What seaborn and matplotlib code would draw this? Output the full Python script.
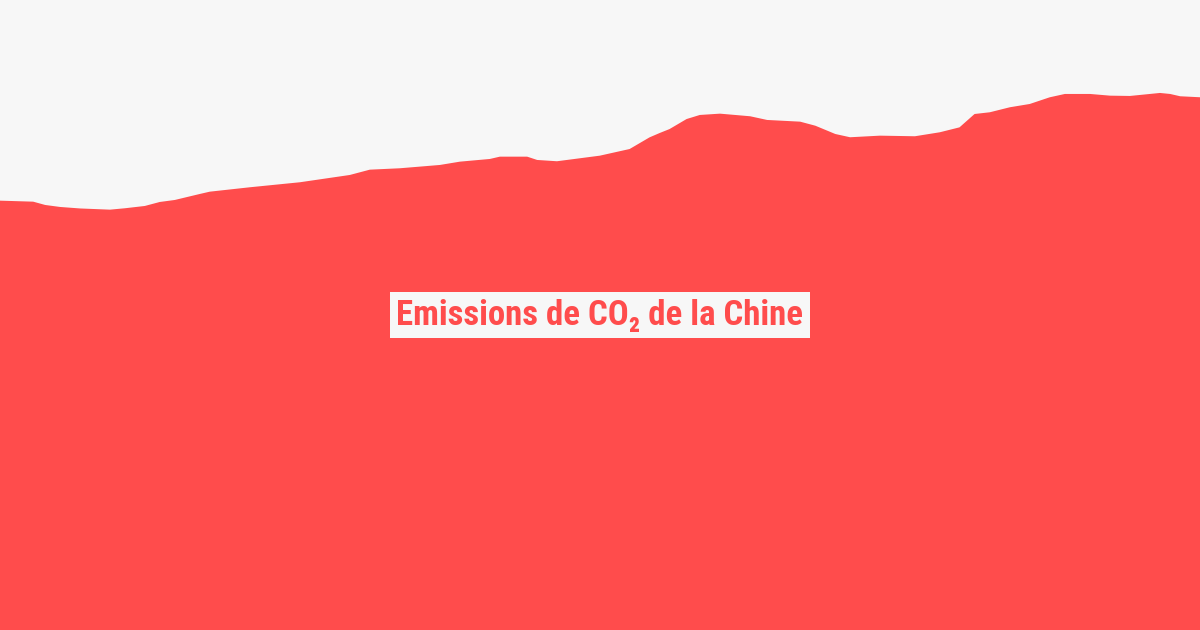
import numpy as np
import pandas as pd
import matplotlib
matplotlib.use("Agg")
import matplotlib.pyplot as plt
from matplotlib import font_manager
import seaborn as sns

# position along the series (0-1200) and level of the curve (0-630)
pos = [0, 33, 45, 60, 80, 110, 125, 145, 160, 175, 200, 210, 250, 300, 350, 370,
       400, 440, 460, 490, 500, 527, 537, 557, 600, 630, 650, 660, 670, 687, 700,
       720, 750, 767, 800, 815, 835, 850, 880, 915, 940, 960, 975, 990, 1010, 1030,
       1050, 1065, 1090, 1110, 1130, 1160, 1170, 1180, 1200]
niveau = [428.3, 427.3, 424, 422, 420.5, 419.3, 420.7, 423, 427, 429, 435, 437.3,
          441.7, 446.7, 454, 459.3, 460.7, 464, 467.3, 470, 472.3, 472.3, 469, 467.7,
          473.3, 480, 491.7, 496, 500, 510, 514, 515.3, 512.7, 509, 507.3, 503.3, 495,
          491.7, 493.3, 492.7, 496.7, 501.7, 515, 516.7, 521.7, 525, 531.7, 535, 535,
          533.3, 533, 536, 535, 532.7, 531.7]

titre = "Emissions de CO₂ de la Chine"

rouge = "#ff4c4c"
fond = "#f7f7f7"

df = pd.DataFrame({"pos": pos, "niveau": niveau})

sns.set_style("white")

# cherche une police étroite parmi celles installées
installees = {f.name for f in font_manager.fontManager.ttflist}
etroites = [f.name for f in font_manager.fontManager.ttflist
            if f.stretch in ("condensed", "semi-condensed", "extra-condensed") or
            "Condensed" in f.name or "Narrow" in f.name]
police = None
for nom in ["Roboto Condensed", "Liberation Sans Narrow", "Open Sans Condensed",
            "DejaVu Sans Condensed"]:
    if nom in installees:
        police = nom
        break
if police is None and etroites:
    police = etroites[0]
if police is None:
    police = "Roboto"
plt.rcParams["font.family"] = [police, "DejaVu Sans"]

fig = plt.figure(figsize=(12, 6.3), dpi=100)
fig.patch.set_facecolor(fond)
ax = fig.add_axes([0, 0, 1, 1])
ax.set_facecolor(fond)

sns.lineplot(data=df, x="pos", y="niveau", color=rouge, linewidth=1.5, ax=ax)
ax.fill_between(df["pos"], df["niveau"], 0, color=rouge, linewidth=0)

ax.set_xlim(0, 1200)
ax.set_ylim(0, 630)
ax.axis("off")

txt = fig.text(0.5, 0.5, titre, ha="center", va="center", color=rouge,
               fontsize=30, fontweight="bold", fontstretch="condensed")
# ajuste la taille pour que le titre fasse ~407 px de large
fig.canvas.draw()
largeur = txt.get_window_extent().width
taille = min(32, 30 * 407 / largeur)
txt.set_fontsize(taille)
txt.set_bbox(dict(boxstyle="square,pad=0.18", facecolor=fond, edgecolor="none"))

fig.savefig("out.png", dpi=100, facecolor=fond)
